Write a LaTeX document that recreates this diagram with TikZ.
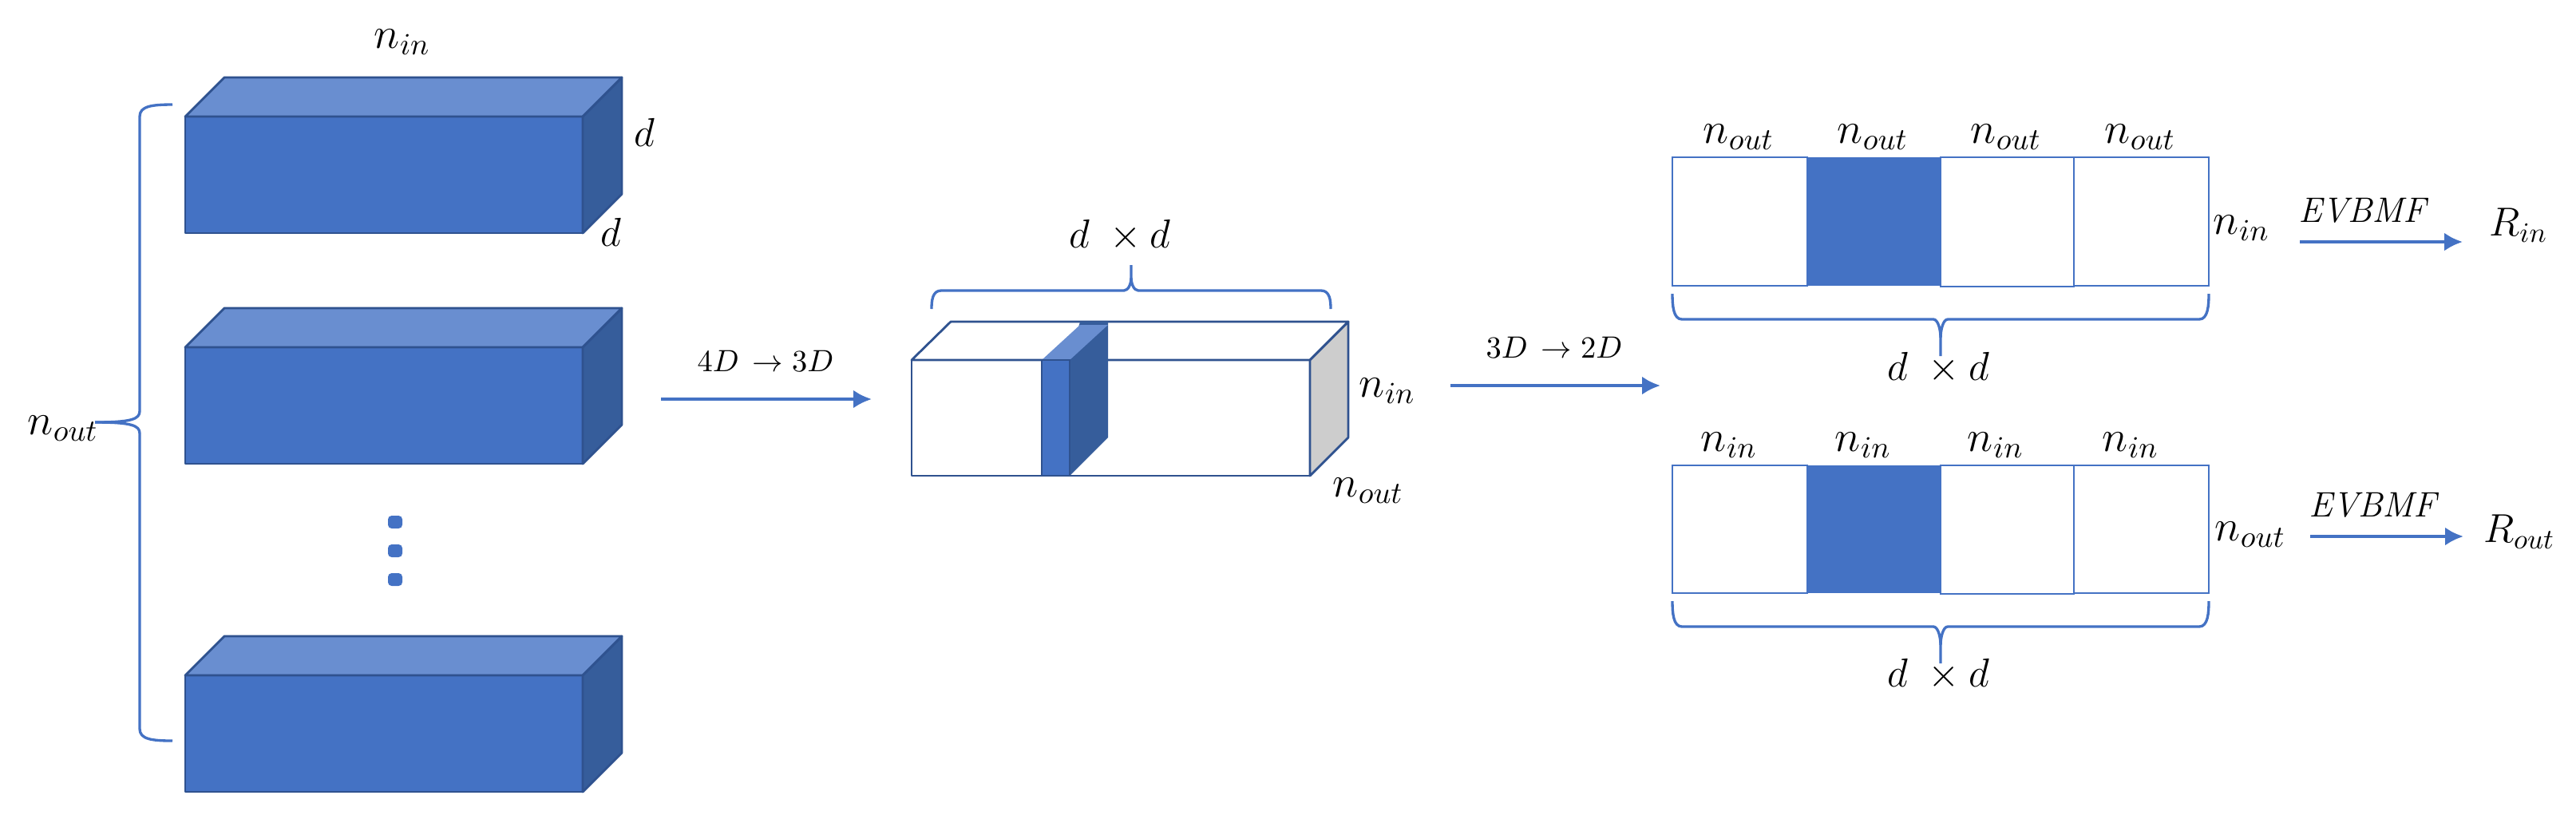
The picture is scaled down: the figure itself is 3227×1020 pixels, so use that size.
\documentclass[tikz,border=0pt]{standalone}
\usepackage{fix-cm}
\usetikzlibrary{
  arrows.meta,
  calc
}
\definecolor{boxblue}{HTML}{4472C4}
\definecolor{boxtop}{HTML}{698ED0}
\definecolor{boxside}{HTML}{365D9B}
\definecolor{boxline}{HTML}{2F528F}
\definecolor{boxgray}{HTML}{CDCDCD}
\tikzset{
  label big/.style={inner sep=0pt, font=\fontsize{15.6}{18}\selectfont},
  label mid/.style={inner sep=0pt, font=\fontsize{14.4}{17}\selectfont},
  label evb/.style={inner sep=0pt, font=\fontsize{12.6}{15}\selectfont},
  label small/.style={inner sep=0pt, font=\fontsize{10.95}{13}\selectfont},
  face/.style={draw=boxline, line width=0.8pt, line join=round},
  cell/.style={draw=boxblue, line width=0.75pt},
  curly/.style={draw=boxblue, line width=0.95pt, line join=round},
  flow/.style={draw=boxblue, line width=1.15pt, -{Latex[length=6.5pt, width=6.5pt]}},
  dot/.style={fill=boxblue, rounded corners=1.3pt}
}
% brace opening downwards: left x, tip x, right x, end y, bar y, tip y
\newcommand{\curlyh}[6]{
  \draw[curly] (#1,#4) .. controls (#1,{#5+0.55*(#4-#5)}) and (#1+1,#5) .. (#1+12,#5) -- (#2-9,#5)
    .. controls (#2-3,#5) and (#2,{#5+0.3*(#6-#5)}) .. (#2,{#5+0.5*(#6-#5)}) -- (#2,#6);
  \draw[curly] (#3,#4) .. controls (#3,{#5+0.55*(#4-#5)}) and (#3-1,#5) .. (#3-12,#5) -- (#2+9,#5)
    .. controls (#2+3,#5) and (#2,{#5+0.3*(#6-#5)}) .. (#2,{#5+0.5*(#6-#5)});
}
\begin{document}
\begin{tikzpicture}[x=0.01cm, y=-0.01cm]
\useasboundingbox (0,0) rectangle (3227,1020);

% the stack of blocks
\foreach \t in {146,435,846} {
  \fill[boxblue, face] (232,\t) rectangle (730,\t+146);
  \fill[boxtop, face] (232,\t) -- (281,\t-49) -- (779,\t-49) -- (730,\t) -- cycle;
  \fill[boxside, face] (730,\t) -- (779,\t-49) -- (779,\t+97) -- (730,\t+146) -- cycle;
}
\foreach \y in {654,690,726} {
  \fill[dot] (486,\y-8) rectangle (504,\y+8);
}
\draw[curly] (216,131) .. controls (190,131) and (175,133) .. (175,146) -- (175,515)
  .. controls (175,525) and (165,529) .. (119,529);
\draw[curly] (216,928) .. controls (190,928) and (175,926) .. (175,913) -- (175,543)
  .. controls (175,533) and (165,529) .. (119,529);

\node[label big] (nin1) at (504,53) {$n_{in}$};
\node[label mid] (dtop) at (807,166) {$d$};
\node[label mid] (dlow) at (765,291) {$d$};
\node[label big] (nout1) at (79,537) {$n_{out}$};

\coordinate (a1s) at (828,500);
\coordinate (a1e) at (1092,500);
\draw[flow] (a1s) -- (a1e);
\node[label small] (step1) at (959,452) {$4D\,\rightarrow 3D$};

% the slab with one slice
\fill[white, face] (1142,451) rectangle (1641,596);
\fill[white, face] (1142,451) -- (1191,403) -- (1689,403) -- (1641,451) -- cycle;
\fill[boxgray, face] (1641,451) -- (1689,403) -- (1689,548) -- (1641,596) -- cycle;
\fill[boxside] (1340,596) -- (1340,451) -- (1353,403) -- (1388,403) -- (1388,548) -- cycle;
\fill[boxtop] (1305,451) -- (1353,407) -- (1388,407) -- (1340,451) -- cycle;
\fill[boxblue, draw=boxline, line width=0.8pt] (1305,451) rectangle (1340,596);
\draw[face] (1142,596) -- (1641,596);
\curlyh{1167}{1417}{1667}{387}{364}{332}

\node[label mid] (ddmid) at (1403,295) {$d\;\times d$};
\node[label big] (nin2) at (1738,490) {$n_{in}$};
\node[label big] (nout2) at (1714,615) {$n_{out}$};

\coordinate (a2s) at (1817,483);
\coordinate (a2e) at (2080,483);
\draw[flow] (a2s) -- (a2e);
\node[label small] (step2) at (1947,435) {$3D\,\rightarrow 2D$};

% the two flattened matrices
\foreach \t/\b in {197/358,583/743} {
  \draw[cell] (2095,\t) rectangle (2264,\b);
  \fill[boxblue] (2264,\t) rectangle (2431,\b);
  \draw[cell] (2431,\t) rectangle (2598,\b+1);
  \draw[cell] (2598,\t) rectangle (2767,\b);
}
\curlyh{2095}{2431}{2767}{368}{400}{446}
\curlyh{2095}{2431}{2767}{753}{785}{831}

\foreach \x [count=\i] in {2178,2346,2513,2681} {
  \node[label big] (outc\i) at (\x,172) {$n_{out}$};
}
\foreach \x [count=\i] in {2166,2334,2500,2669} {
  \node[label big] (inc\i) at (\x,558) {$n_{in}$};
}
\node[label mid] (ddup) at (2428,461) {$d\;\times d$};
\node[label mid] (dddn) at (2428,845) {$d\;\times d$};

\node[label big] (nin3) at (2808,286) {$n_{in}$};
\node[label big] (nout3) at (2819,670) {$n_{out}$};
\node[label evb] (evup) at (2962,263) {$\mathit{EVBMF}$};
\node[label evb] (evdn) at (2975,632) {$\mathit{EVBMF}$};
\node[label mid] (rin) at (3155,282) {$R_{in}$};
\node[label mid] (rout) at (3156,666) {$R_{out}$};

\coordinate (a3s) at (2881,303);
\coordinate (a3e) at (3085,303);
\coordinate (a4s) at (2894,672);
\coordinate (a4e) at (3086,672);
\draw[flow] (a3s) -- (a3e);
\draw[flow] (a4s) -- (a4e);
\end{tikzpicture}
\end{document}
